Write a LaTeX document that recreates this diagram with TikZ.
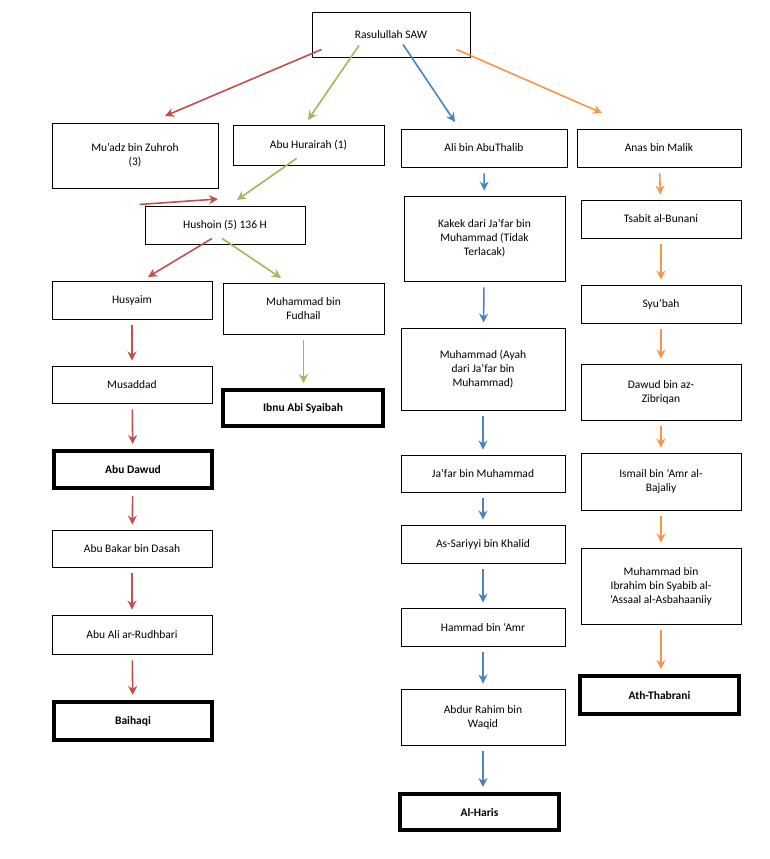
\documentclass[tikz,border=0pt]{standalone}
\usepackage{fontspec}
\setmainfont{Carlito}
\usetikzlibrary{arrows.meta}
\begin{document}
\begin{tikzpicture}[x=1pt,y=-1pt,
 bx/.style={draw,line width=0.9pt,align=center,font=\fontsize{11.5}{14}\selectfont,inner sep=2pt},
 bb/.style={draw,line width=4pt,align=center,font=\fontsize{11.5}{14}\selectfont\bfseries},
 ar/.style={line width=1.6pt,-{Stealth[length=9pt,width=9pt]},shorten >=5pt,shorten <=6pt},
 cr/.style={ar,color={rgb,255:red,192;green,80;blue,77}},
 cg/.style={ar,color={rgb,255:red,155;green,187;blue,89}},
 cb/.style={ar,color={rgb,255:red,79;green,129;blue,189}},
 co/.style={ar,color={rgb,255:red,247;green,150;blue,70}}]
\useasboundingbox (0,0) rectangle (769,859);
\newcommand{\bxn}[6]{\node[#1,minimum width=#4-#3,minimum height=#6-#5] (#2) at ({(#3+#4)/2},{(#5+#6)/2})}
\bxn{bx}{r}{312}{470}{12}{57} {Rasulullah SAW};
\bxn{bx}{m}{52}{218}{123}{188} {Mu’adz bin Zuhroh\\(3)};
\bxn{bx}{h}{233}{384}{125}{165} {Abu Hurairah (1)};
\bxn{bx}{a}{401}{567}{129}{167} {Ali bin AbuThalib};
\bxn{bx}{n}{577}{741}{129}{167} {Anas bin Malik};
\bxn{bx}{hu}{145}{305}{206}{244} {Hushoin (5) 136 H};
\bxn{bx}{hy}{52}{212}{281}{319} {Husyaim};
\bxn{bx}{mf}{223}{384}{283}{334} {Muhammad bin\\Fudhail};
\bxn{bx}{mu}{52}{212}{366}{403} {Musaddad};
\bxn{bb}{ia}{223}{383}{390}{426} {Ibnu Abi Syaibah};
\bxn{bb}{ad}{54}{212}{451}{488} {Abu Dawud};
\bxn{bx}{ab}{52}{212}{530}{567} {Abu Bakar bin Dasah};
\bxn{bx}{aa}{52}{212}{615}{654} {Abu Ali ar-Rudhbari};
\bxn{bb}{ba}{54}{212}{702}{740} {Baihaqi};
\bxn{bx}{k}{404}{565}{196}{281} {Kakek dari Ja’far bin\\Muhammad (Tidak\\Terlacak)};
\bxn{bx}{ma}{401}{565}{328}{410} {Muhammad (Ayah\\dari Ja’far bin\\Muhammad)};
\bxn{bx}{jm}{401}{565}{455}{492} {Ja’far bin Muhammad};
\bxn{bx}{as}{401}{565}{525}{563} {As-Sariyyi bin Khalid};
\bxn{bx}{ha}{401}{565}{608}{646} {Hammad bin ‘Amr};
\bxn{bx}{ar}{401}{565}{689}{745} {Abdur Rahim bin\\Waqid};
\bxn{bb}{al}{400}{559}{794}{830} {Al-Haris};
\bxn{bx}{ts}{581}{741}{200}{238} {Tsabit al-Bunani};
\bxn{bx}{sy}{581}{741}{285}{323} {Syu’bah};
\bxn{bx}{dz}{581}{741}{364}{420} {Dawud bin az-\\Zibriqan};
\bxn{bx}{is}{581}{741}{453}{510} {Ismail bin ‘Amr al-\\Bajaliy};
\bxn{bx}{mi}{581}{741}{548}{624} {Muhammad bin\\Ibrahim bin Syabib al-\\‘Assaal al-Asbahaaniiy};
\bxn{bb}{at}{580}{739}{676}{714} {Ath-Thabrani};
\coordinate (c1) at (165,116); \coordinate (c2) at (308,120);
\coordinate (c3) at (455,122); \coordinate (c4) at (602,113);
\draw[cr,shorten >=0pt,shorten <=0pt] ([xshift=10pt,yshift=8pt]r.south west) -- (c1);
\draw[cg,shorten >=0pt,shorten <=0pt] ([xshift=-32pt,yshift=12pt]r.south) -- (c2);
\draw[cb,shorten >=0pt,shorten <=0pt] ([xshift=12pt,yshift=13pt]r.south) -- (c3);
\draw[co,shorten >=0pt,shorten <=0pt] ([xshift=-14pt,yshift=8pt]r.south east) -- (c4);
\coordinate (d1) at (218,199); \coordinate (d2) at (237,200);
\draw[cr,shorten >=0pt,shorten <=0pt] ([xshift=88pt,yshift=-16pt]m.south west) -- (d1);
\draw[cg,shorten >=0pt,shorten <=0pt] ([xshift=64pt,yshift=7pt]h.south west) -- (d2);
\coordinate (e1) at (148,277); \coordinate (e2) at (281,278);
\draw[cr,shorten >=0pt,shorten <=0pt] ([xshift=-13pt,yshift=6pt]hu.south) -- (e1);
\draw[cg,shorten >=0pt,shorten <=0pt] ([xshift=-3pt,yshift=6pt]hu.south) -- (e2);
\draw[cr] (hy) -- (mu); \draw[cr] (mu) -- (ad); \draw[cr] (ad) -- (ab);
\draw[cr] (ab) -- (aa); \draw[cr] (aa) -- (ba);
\draw[cg] (mf.south) -- (mf.south|-ia.north);
\draw[cb] (a) -- (k); \draw[cb] (k) -- (ma); \draw[cb] (ma) -- (jm);
\draw[cb] (jm) -- (as); \draw[cb] (as) -- (ha); \draw[cb] (ha) -- (ar);
\draw[cb] (ar.south) -- (ar.south|-al.north);
\draw[co] (n) -- (ts); \draw[co] (ts) -- (sy); \draw[co] (sy) -- (dz);
\draw[co] (dz) -- (is); \draw[co] (is) -- (mi); \draw[co] (mi.south) -- (mi.south|-at.north);
\end{tikzpicture}
\end{document}
